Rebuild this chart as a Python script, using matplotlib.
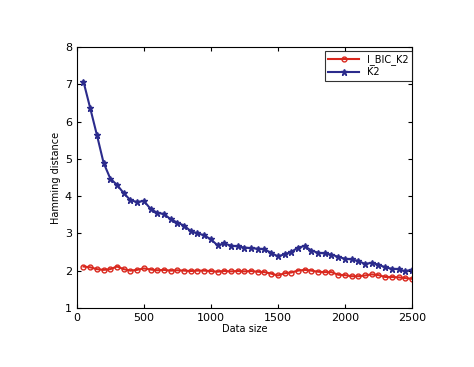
import numpy as np
import matplotlib
matplotlib.use("Agg")
from matplotlib import pyplot as plt

data_size = np.arange(50, 2550, 50)

k2 = [7.07, 6.36, 5.64, 4.89, 4.47, 4.30, 4.08, 3.89, 3.84, 3.87,
      3.66, 3.55, 3.52, 3.38, 3.29, 3.21, 3.06, 3.00, 2.95, 2.84,
      2.68, 2.73, 2.67, 2.65, 2.62, 2.60, 2.59, 2.57, 2.48, 2.38,
      2.44, 2.50, 2.62, 2.66, 2.54, 2.48, 2.46, 2.43, 2.37, 2.32,
      2.30, 2.26, 2.18, 2.21, 2.16, 2.09, 2.05, 2.04, 1.98, 2.03]

i_bic_k2 = [2.11, 2.09, 2.04, 2.02, 2.04, 2.11, 2.04, 2.00, 2.02, 2.06,
            2.03, 2.01, 2.02, 2.00, 2.01, 2.00, 1.99, 2.00, 2.00, 1.99,
            1.97, 1.99, 1.98, 1.99, 1.98, 1.99, 1.97, 1.96, 1.92, 1.87,
            1.93, 1.95, 2.00, 2.02, 2.00, 1.97, 1.96, 1.96, 1.89, 1.88,
            1.85, 1.85, 1.87, 1.90, 1.88, 1.83, 1.83, 1.82, 1.80, 1.78]

fig = plt.figure(figsize=(4.74, 3.67), dpi=100)
ax = fig.add_axes([0.162, 0.161, 0.707, 0.711])

ax.plot(data_size, i_bic_k2, color='#d9281e', marker='o', markersize=3.5,
        markerfacecolor='none', markeredgewidth=1.0, linewidth=1.5, label='I_BIC_K2')
ax.plot(data_size, k2, color='#2b2b8c', marker='*', markersize=5,
        markeredgewidth=1.0, linewidth=1.5, label='K2')

ax.set_xlim(0, 2500)
ax.set_ylim(1, 8)
ax.set_xticks(np.arange(0, 2501, 500))
ax.set_yticks(np.arange(1, 9, 1))
ax.tick_params(direction='in', top=True, right=True, labelsize=8, length=3)
ax.set_xlabel('Data size', fontsize=7, labelpad=1)
ax.set_ylabel('Hamming distance', fontsize=7, labelpad=3)

leg = ax.legend(loc='upper right', bbox_to_anchor=(1.0, 0.985), fontsize=7,
                fancybox=False, edgecolor='black', borderaxespad=0.0,
                handlelength=3.2, borderpad=0.35, labelspacing=0.2)
leg.get_frame().set_linewidth(0.8)

fig.savefig('out.png', dpi=100)
